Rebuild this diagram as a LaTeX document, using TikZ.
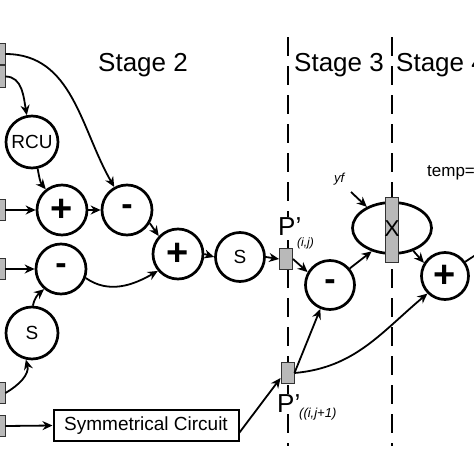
\documentclass[tikz,border=0pt]{standalone}
\usepackage{fontspec}
\setmainfont{Liberation Sans}
\usetikzlibrary{arrows.meta,shapes.geometric}
\begin{document}
\begin{tikzpicture}[x=1pt,y=1pt,
  op/.style={circle,draw,line width=2.7pt,minimum size=50pt,inner sep=0pt},
  graybox/.style={draw=black!80,fill=gray!55,line width=0.9pt,minimum width=13pt,minimum height=21.5pt,inner sep=0pt},
  arr/.style={line width=1.8pt,-{Stealth[length=10pt,width=9pt]}},
  conn/.style={line width=1.8pt},
  lbl/.style={inner sep=0pt,anchor=base west},
  stagelbl/.style={lbl,font=\fontsize{26}{28}\selectfont},
  plbl/.style={lbl,font=\fontsize{26}{28}\selectfont},
  sublbl/.style={lbl,font=\fontsize{13}{14}\selectfont\itshape},
  plusfont/.style={font=\fontsize{38}{38}\selectfont\bfseries},
  minusfont/.style={font=\fontsize{34}{34}\selectfont\bfseries},
  wordfont/.style={font=\fontsize{19}{20}\selectfont},
  vdash/.style={line width=2pt,dash pattern=on 19pt off 10pt}
]
\useasboundingbox (0,0) rectangle (474,-474);
\clip (0,0) rectangle (474,-474);

% stage separators
\draw[vdash] (288,-37) -- (288,-446);
\draw[vdash] (392,-37) -- (392,-446);

% stage labels
\node[stagelbl] (st2) at (98,-71) {Stage 2};
\node[stagelbl,fill=white,inner xsep=1pt] (st3) at (293,-71) {Stage 3};
\node[stagelbl,fill=white,inner xsep=1pt] (st4) at (395,-71) {Stage 4};

% inputs
\node[graybox] (in1) at (-1.5,-54) {};
\node[graybox] (in2) at (-1.5,-76.5) {};
\node[graybox] (in3) at (-1.5,-210) {};
\node[graybox] (in4) at (-1.5,-269) {};
\node[graybox] (in5) at (-1.5,-393) {};
\node[graybox] (in6) at (-1.5,-426) {};

% operators stage 2
\node[op,minimum size=52pt,wordfont] (rcu) at (32,-142) {RCU};
\node[op,plusfont] (p1) at (62,-210) {+};
\node[op,minusfont] (m1) at (127,-210) {-};
\node[op,minusfont] (m2) at (61,-269) {-};
\node[op,minimum size=52pt,wordfont] (s1) at (32,-333) {S};
\node[op,plusfont] (p2) at (178,-254) {+};
\node[op,minimum size=49pt,wordfont] (s2) at (240,-257) {S};
\node[draw,line width=2pt,minimum width=185pt,minimum height=31pt,inner sep=0pt,wordfont] (sym) at (146,-425.5) {Symmetrical Circuit};

% stage 3
\node[graybox] (pij) at (286,-259) {};
\node[plbl,fill=white,inner xsep=1pt] (plab1) at (277,-235) {P’};
\node[sublbl,font=\fontsize{12}{13}\selectfont\itshape] (sub1) at (297,-246) {(i,j)};
\node[graybox] (pj1) at (287.5,-373) {};
\node[plbl,fill=white,inner xsep=1pt] (plab2) at (276,-412) {P’};
\node[sublbl] (sub2) at (299,-417) {((i,j+1)};
\node[op,minusfont,minimum size=49pt] (m3) at (330,-285) {-};

% stage 4
\node[ellipse,draw,line width=2.7pt,minimum width=79pt,minimum height=51pt,inner sep=0pt,fill=white] (ell) at (392,-228) {};
\node[draw=black!80,fill=gray!55,line width=0.9pt,minimum width=13pt,minimum height=65pt,inner sep=0pt] (bar) at (392,-229.5) {};
\node[font=\fontsize{23}{23}\selectfont] (mul) at (392,-229) {X};
\node[sublbl] (yf) at (334,-182) {yf};
\coordinate (yfs) at (351,-192);
\node[op,plusfont,minimum size=47pt] (p4) at (445,-276) {+};
\node[lbl,font=\fontsize{17}{18}\selectfont] (temp) at (427,-176.5) {temp=};
\coordinate (outr) at (480,-252);

% connectors
\draw[arr] (in1.east) to[out=0,in=120] (m1.119);
\draw[arr] (in2.east) to[out=0,in=100] (rcu.101);
\draw[arr] (rcu.-78) to[out=-80,in=130] (p1.128);
\draw[arr] (in3.east) -- (p1.west);
\draw[arr] (p1.east) -- (m1.west);
\draw[arr] (m1.-30) -- (p2.137);
\draw[arr] (in4.east) -- (m2.west);
\draw[arr] (s1.88) to[out=80,in=-140] (m2.-130);
\draw[arr] (in5.east) to[out=30,in=-75] (s1.-103);
\draw[arr] (in6.east) -- (sym.west);
\draw[arr] (m2.-20) to[out=-35,in=210] (p2.-140);
\draw[arr] (p2.east) -- (s2.west);
\draw[arr] (s2.east) -- (pij.west);
\draw[arr] (pij.east) -- (m3.150);
\draw[arr] ([yshift=-7pt]sym.east) -- ([yshift=-5pt]pj1.west);
\draw[arr] (pj1.east) -- (m3.-112);
\draw[arr] (pj1.east) to[out=5,in=220] (p4.-135);
\draw[arr] (m3.40) -- (ell.-131);
\draw[arr] (ell.-47) -- (p4.148);
\draw[arr] (yfs) -- (ell.140);
\draw[conn] (p4.35) -- (outr);
\end{tikzpicture}
\end{document}
